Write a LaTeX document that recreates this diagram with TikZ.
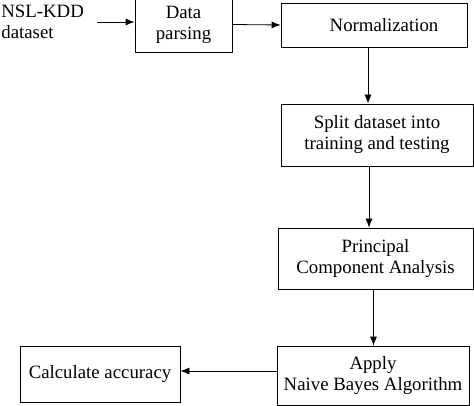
\documentclass[tikz,border=0pt]{standalone}
\usepackage{fontspec}
\setmainfont{Liberation Serif}
\usepackage{tikz}
\usetikzlibrary{positioning, arrows.meta}

\tikzset{
  box/.style = {draw, line width=0.8pt, align=center, inner sep=0pt,
                font=\fontsize{18.8}{21}\selectfont},
}

\begin{document}
\begin{tikzpicture}[x=1pt, y=-1pt, >={Latex[length=9pt,width=7pt]}, line width=0.8pt]
                    \useasboundingbox (0,0) rectangle (474,406);
                    \node[align=left, anchor=west, inner sep=0pt, font=\fontsize{18.8}{21}\selectfont] at (1,22) (src) {NSL-KDD\\dataset};
                    \node[box, minimum width=97pt, minimum height=55pt] at (183.5,24.5) (parse) {Data\\parsing};
                    \node[box, minimum width=186pt, minimum height=44pt, text width=186pt] at (374,25) (norm) {\hspace*{20pt}Normalization};
                    \node[box, minimum width=192pt, minimum height=62pt] at (377,135) (split) {Split dataset into\\training and testing};
                    \node[box, minimum width=195pt, minimum height=61pt] at (375.5,258.5) (pca) {Principal\\Component Analysis};
                    \node[box, minimum width=192pt, minimum height=59pt] at (373,375.5) (apply) {Apply\\Naive Bayes Algorithm};
                    \node[box, minimum width=160pt, minimum height=56pt] at (100,374) (calc) {Calculate accuracy};

                    \draw [->, shorten <=13pt] (src.east) -- (parse.west |- src.east);
                    \draw [->] (parse.east) -- (norm.west);
                    \draw [->] ([xshift=-6pt]norm.south) -- ([xshift=-6pt]norm.south |- split.north);
                    \draw [->] ([xshift=-8pt]split.south) -- ([xshift=-8pt]split.south |- pca.north);
                    \draw [->] ([xshift=-2pt]pca.south) -- ([xshift=-2pt]pca.south |- apply.north);
                    \draw [->] (apply.west |- 0,371) -- (calc.east |- 0,371);
                \end{tikzpicture}
\end{document}
